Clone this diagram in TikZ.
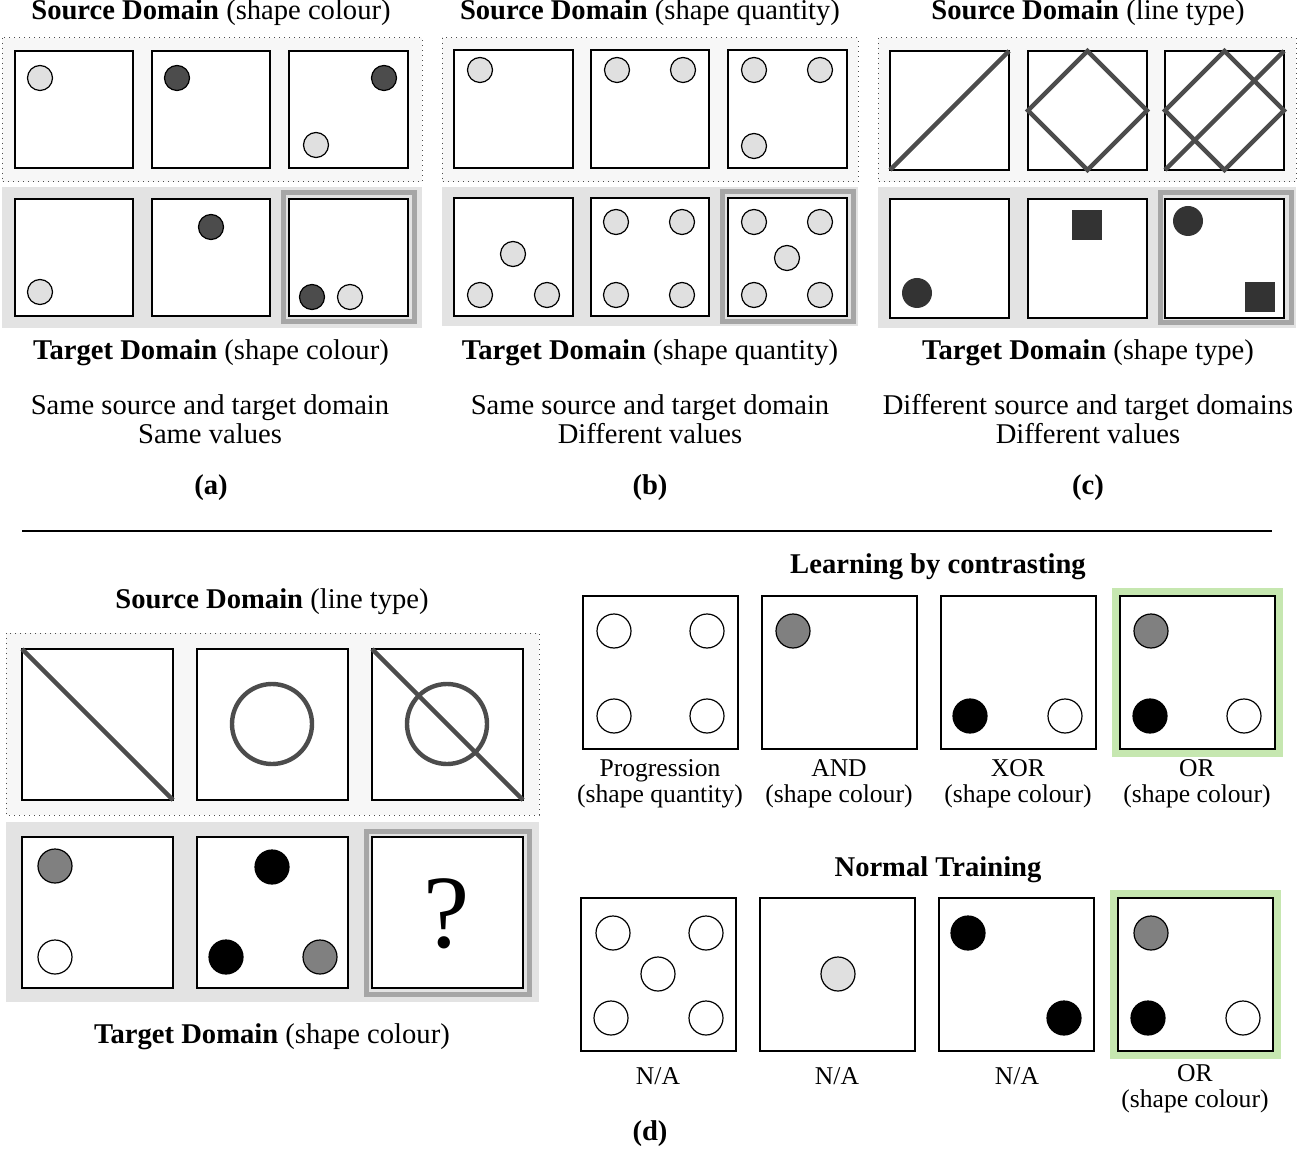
\documentclass[tikz,border=0pt]{standalone}
\usepackage{fontspec}
\setmainfont{Liberation Serif}
\definecolor{pgreen}{HTML}{C6E7B0}
\begin{document}
\begin{tikzpicture}[x=0.5pt,y=-0.5pt,
  box/.style={draw=black,line width=1pt,fill=white},
  src/.style={draw=black!70,dotted,line width=0.5pt,fill=black!3},
  tgt/.style={fill=black!11},
  hl/.style={draw=black!35,line width=2.5pt},
  grn/.style={fill=pgreen},
  lc/.style={circle,draw=black,line width=0.6pt,fill=black!12,minimum size=12.5pt,inner sep=0pt},
  dc/.style={circle,draw=black,line width=0.6pt,fill=black!70,minimum size=12.5pt,inner sep=0pt},
  wc/.style={circle,draw=black,line width=0.6pt,fill=white,minimum size=17pt,inner sep=0pt},
  gc/.style={circle,draw=black,line width=0.6pt,fill=black!50,minimum size=17pt,inner sep=0pt},
  bc/.style={circle,draw=black,line width=0.6pt,fill=black,minimum size=17pt,inner sep=0pt},
  ln/.style={draw=black!70,line width=2.2pt},
  t/.style={font=\fontsize{14.3}{14.5}\selectfont},
  s/.style={font=\fontsize{12.8}{13}\selectfont,align=center}]
\useasboundingbox (0,0) rectangle (1300,1149);
% ---------- (a)
\draw[src] (2,38) rectangle (422,182);
\fill[tgt] (2,187) rectangle (422,328);
\draw[box] (15,51) rectangle (133,168); \draw[box] (152,51) rectangle (270,168); \draw[box] (289,51) rectangle (408,168);
\draw[hl] (283,193) rectangle (414,322);
\draw[box] (15,199) rectangle (133,316); \draw[box] (152,199) rectangle (270,316); \draw[box] (289,199) rectangle (408,316);
\node[lc] (a1) at (40,78) {}; \node[dc] (a2) at (177,78) {}; \node[dc] (a3) at (384,78) {}; \node[lc] (a4) at (316,145) {};
\node[lc] (a5) at (40,292) {}; \node[dc] (a6) at (211,227) {}; \node[dc] (a7) at (312,297) {}; \node[lc] (a8) at (350,297) {};
\node[t] (at1) at (211,13) {\textbf{Source Domain} (shape colour)};
\node[t] (at2) at (211,353) {\textbf{Target Domain} (shape colour)};
\node[t,align=center] (at3) at (210,419) {Same source and target domain\\Same values};
\node[t] (at4) at (211,488) {\textbf{(a)}};
% ---------- (b)
\draw[src] (442,38) rectangle (858,182);
\fill[tgt] (442,187) rectangle (858,326);
\draw[box] (454,50) rectangle (573,168); \draw[box] (591,50) rectangle (709,168); \draw[box] (728,50) rectangle (847,168);
\draw[hl] (722,192) rectangle (853,322);
\draw[box] (454,198) rectangle (573,316); \draw[box] (591,198) rectangle (709,316); \draw[box] (728,198) rectangle (847,316);
\foreach \p in {(480,70),(617,70),(683,70),(754,70),(820,70),(754,146),(513,254),(480,295),(547,295),(616,222),(682,222),(616,295),(682,295),(754,222),(820,222),(787,258),(754,295),(820,295)} \node[lc] at \p {};
\node[t] (bt1) at (650,13) {\textbf{Source Domain} (shape quantity)};
\node[t] (bt2) at (650,353) {\textbf{Target Domain} (shape quantity)};
\node[t,align=center] (bt3) at (650,419) {Same source and target domain\\Different values};
\node[t] (bt4) at (650,488) {\textbf{(b)}};
% ---------- (c)
\draw[src] (878,38) rectangle (1296,182);
\fill[tgt] (878,187) rectangle (1296,328);
\draw[box] (890,51) rectangle (1009,170); \draw[box] (1028,51) rectangle (1147,170); \draw[box] (1165,51) rectangle (1284,170);
\draw[ln] (890,170) -- (1009,51);
\draw[ln] (1087.5,51) -- (1147,110.5) -- (1087.5,170) -- (1028,110.5) -- cycle;
\draw[ln] (1224.5,51) -- (1284,110.5) -- (1224.5,170) -- (1165,110.5) -- cycle;
\draw[ln] (1165,170) -- (1284,51);
\draw[hl] (1160,193) rectangle (1291,323);
\draw[box] (890,199) rectangle (1009,318); \draw[box] (1028,199) rectangle (1147,318); \draw[box] (1165,199) rectangle (1284,318);
\node[circle,fill=black!80,minimum size=15pt,inner sep=0pt] (c1) at (917,293) {};
\node[fill=black!80,minimum size=15pt,inner sep=0pt] (c2) at (1087,225) {};
\node[circle,fill=black!80,minimum size=15pt,inner sep=0pt] (c3) at (1188,221) {};
\node[fill=black!80,minimum size=15pt,inner sep=0pt] (c4) at (1260,297) {};
\node[t] (ct1) at (1088,13) {\textbf{Source Domain} (line type)};
\node[t] (ct2) at (1088,353) {\textbf{Target Domain} (shape type)};
\node[t,align=center] (ct3) at (1088,419) {Different source and target domains\\Different values};
\node[t] (ct4) at (1088,488) {\textbf{(c)}};
% divider
\draw[line width=0.6pt] (22,531) -- (1272,531);
% ---------- (d) left
\node[t] (dt1) at (272,602) {\textbf{Source Domain} (line type)};
\draw[src] (6,633) rectangle (539,815);
\fill[tgt] (6,822) rectangle (539,1002);
\draw[box] (22,649) rectangle (173,800); \draw[box] (197,649) rectangle (348,800); \draw[box] (372,649) rectangle (523,800);
\draw[ln] (22,649) -- (173,800);
\draw[ln] (272,724) circle (40);
\draw[ln] (447,724) circle (40);
\draw[ln] (372,649) -- (523,800);
\draw[hl] (366,831) rectangle (529,994);
\draw[box] (22,837) rectangle (173,988); \draw[box] (197,837) rectangle (348,988); \draw[box] (372,837) rectangle (523,988);
\node[gc] at (55,866) {}; \node[wc] at (55,957) {};
\node[bc] at (272,867) {}; \node[bc] at (226,957) {}; \node[gc] at (320,957) {};
\node[font=\fontsize{52}{52}\selectfont] (q) at (447,914) {?};
\node[t] (dt2) at (272,1037) {\textbf{Target Domain} (shape colour)};
% ---------- (d) right
\node[t] (lt) at (938,567) {\textbf{Learning by contrasting}};
\fill[grn] (1112,588) rectangle (1283,757);
\draw[box] (583,596) rectangle (738,749); \draw[box] (762,596) rectangle (917,749);
\draw[box] (941,596) rectangle (1096,749); \draw[box] (1120,596) rectangle (1275,749);
\foreach \p in {(614,631),(707,631),(614,716),(707,716),(1065,716),(1244,716)} \node[wc] at \p {};
\node[gc] at (793,631) {}; \node[gc] at (1151,631) {};
\node[bc] at (970,716) {}; \node[bc] at (1150,716) {};
\node[s] at (660,784) {Progression\\(shape quantity)};
\node[s] at (839,784) {AND\\(shape colour)};
\node[s] at (1018,784) {XOR\\(shape colour)};
\node[s] at (1197,784) {OR\\(shape colour)};
\node[t] (nt) at (938,870) {\textbf{Normal Training}};
\fill[grn] (1110,890) rectangle (1281,1059);
\draw[box] (581,898) rectangle (736,1051); \draw[box] (760,898) rectangle (915,1051);
\draw[box] (939,898) rectangle (1094,1051); \draw[box] (1118,898) rectangle (1273,1051);
\foreach \p in {(613,933),(706,933),(658,974),(611,1018),(706,1018),(1243,1018)} \node[wc] at \p {};
\node[circle,draw=black,line width=0.6pt,fill=black!12,minimum size=17pt,inner sep=0pt] at (838,974) {};
\node[bc] at (968,933) {}; \node[bc] at (1064,1018) {}; \node[bc] at (1148,1018) {};
\node[gc] at (1151,933) {};
\node[s] at (658,1076) {N/A};
\node[s] at (837,1076) {N/A};
\node[s] at (1017,1076) {N/A};
\node[s] at (1195,1089) {OR\\(shape colour)};
\node[t] (dt) at (650,1134) {\textbf{(d)}};
\end{tikzpicture}
\end{document}
